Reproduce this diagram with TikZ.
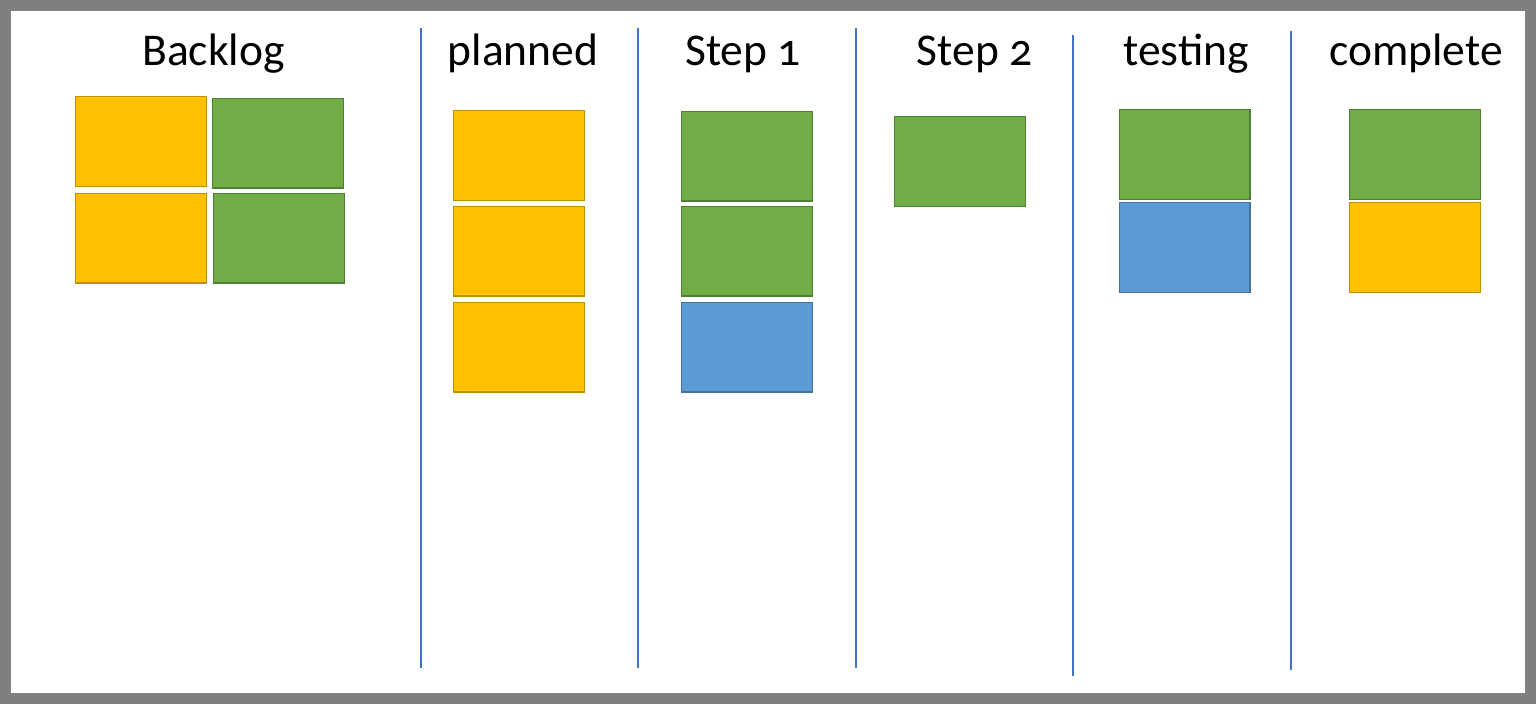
\documentclass[tikz,border=0pt]{standalone}
\usepackage{fontspec}
\setmainfont[Numbers=OldStyle]{Carlito}
\definecolor{frame}{HTML}{7F7F7F}
\definecolor{sep}{HTML}{4472C4}
\definecolor{yfill}{HTML}{FFC000}
\definecolor{ydraw}{HTML}{BF9000}
\definecolor{gfill}{HTML}{70AD47}
\definecolor{gdraw}{HTML}{507E32}
\definecolor{bfill}{HTML}{5B9BD5}
\definecolor{bdraw}{HTML}{41719C}
\tikzset{
  card/.style={rectangle, minimum width=130.7pt, minimum height=89.7pt, inner sep=0pt, line width=1.3pt},
  ycard/.style={card, fill=yfill, draw=ydraw},
  gcard/.style={card, fill=gfill, draw=gdraw},
  bcard/.style={card, fill=bfill, draw=bdraw},
  title/.style={anchor=base, inner sep=0pt, font=\fontsize{45.5}{54}\selectfont},
  colsep/.style={draw=sep, line width=2.5pt}
}
\begin{document}
\begin{tikzpicture}[x=1pt,y=-1pt]
\fill[frame] (0,0) rectangle (1536,704);
\fill[white] (11,11) rectangle (1525,693);
\useasboundingbox (0,0) rectangle (1536,704);
% column separators
\draw[colsep] (421,28) -- (421,668);
\draw[colsep] (638,28) -- (638,668);
\draw[colsep] (856,28) -- (856,668);
\draw[colsep] (1073,35) -- (1073,676);
\draw[colsep] (1291,31) -- (1291,670);
% titles
\node[title] (tback) at (213.5,65.5) {Backlog};
\node[title] (tplan) at (523,65.5) {planned};
\node[title] (tstep1) at (743,65.5) {Step 1};
\node[title] (tstep2) at (974.5,65.5) {Step 2};
\node[title] (ttest) at (1186,65.5) {testing};
\node[title] (tcomp) at (1416,65.5) {complete};
% backlog
\node[ycard] (by1) at (141,141.5) {};
\node[gcard] (bg1) at (278,143) {};
\node[ycard] (by2) at (141,238) {};
\node[gcard] (bg2) at (279,238) {};
% planned
\node[ycard] (py1) at (519,155.5) {};
\node[ycard] (py2) at (519,251) {};
\node[ycard] (py3) at (519,347) {};
% step 1
\node[gcard] (s1g1) at (747,156) {};
\node[gcard] (s1g2) at (747,251) {};
\node[bcard] (s1b1) at (747,347) {};
% step 2
\node[gcard] (s2g1) at (960,161.5) {};
% testing
\node[gcard] (tg1) at (1184.5,154.5) {};
\node[bcard] (tb1) at (1184.5,247.5) {};
% complete
\node[gcard] (cg1) at (1415,154.5) {};
\node[ycard] (cy1) at (1415,247.5) {};
\end{tikzpicture}
\end{document}
